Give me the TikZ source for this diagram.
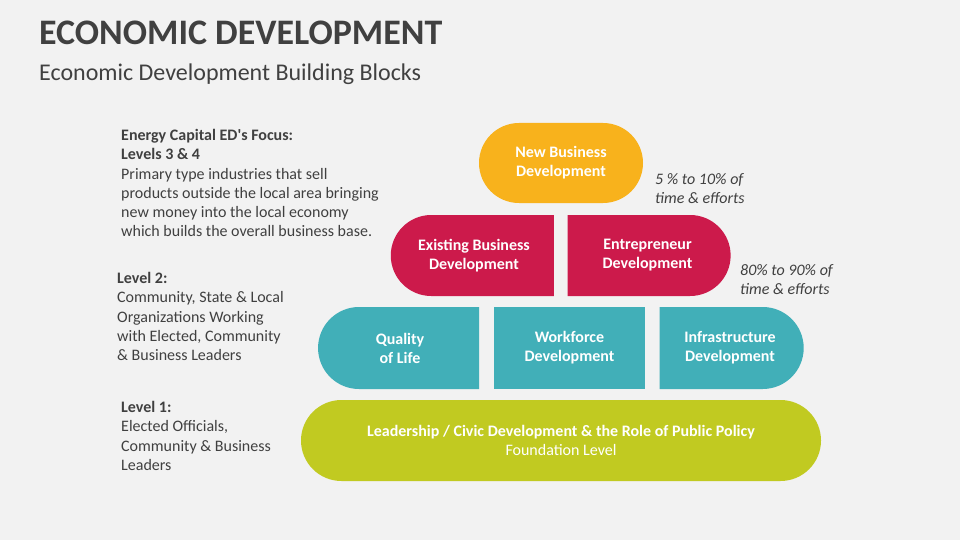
\documentclass[tikz,border=0pt]{standalone}
\usepackage{fontspec}
\setmainfont{Carlito}
\usetikzlibrary{shapes.misc}
\definecolor{bg}{HTML}{F2F2F2}
\definecolor{txt}{HTML}{404040}
\definecolor{cOrange}{HTML}{F8B21C}
\definecolor{cRed}{HTML}{CC1A4B}
\definecolor{cTeal}{HTML}{41AFB8}
\definecolor{cLime}{HTML}{C1CA21}
\tikzset{
  blk/.style={fill=#1, draw=none, text=white, inner sep=0pt, align=center,
    font=\fontsize{16}{19}\selectfont\bfseries, minimum height=81pt},
  pill/.style={blk=#1, rounded rectangle},
  pillL/.style={blk=#1, rounded rectangle, rounded rectangle right arc=none},
  pillR/.style={blk=#1, rounded rectangle, rounded rectangle left arc=none},
  sq/.style={blk=#1, rectangle},
  para/.style={anchor=north west, inner sep=0pt, align=left, text=txt,
    font=\fontsize{16}{19.3}\selectfont},
  pct/.style={anchor=north west, inner sep=0pt, align=left, text=txt,
    font=\fontsize{16}{19}\selectfont\itshape},
}
\begin{document}
\begin{tikzpicture}[x=1pt,y=-1pt]
\fill[bg] (0,0) rectangle (960,540);
\useasboundingbox (0,0) rectangle (960,540);

\node[anchor=base west, inner sep=0pt, text=txt, font=\fontsize{35.9}{40}\selectfont\bfseries] (title) at (39,45) {ECONOMIC DEVELOPMENT};
\node[anchor=base west, inner sep=0pt, text=txt, font=\fontsize{24}{28}\selectfont] (sub) at (39,81) {Economic Development Building Blocks};

% blocks
\node[pill=cOrange, minimum width=164pt, minimum height=80pt] (nbd) at (561,163) {New Business\\Development};
\node[pillL=cRed, minimum width=163pt] (ebd) at (474,255.5) {Existing Business\\Development};
\node[pillR=cRed, minimum width=163pt] (ent) at (647.5,255.5) {Entrepreneur\\Development};
\node[pillL=cTeal, minimum width=161pt, minimum height=82pt] (qol) at (400,348) {Quality\\of Life};
\node[sq=cTeal, minimum width=151pt, minimum height=82pt] (wfd) at (569.5,348) {Workforce\\Development};
\node[pillR=cTeal, minimum width=144pt, minimum height=82pt] (inf) at (730,348) {Infrastructure\\Development};
\node[pill=cLime, minimum width=520pt] (lead) at (561,440.5) {Leadership / Civic Development \& the Role of Public Policy\\\mdseries Foundation Level};

% percentages
\node[pct] (p1) at (655,173) {5 \% to 10\% of\\time \& efforts};
\node[pct] (p2) at (740,264) {80\% to 90\% of\\time \& efforts};

% left texts
\node[para] (l34) at (121,129) {\textbf{Energy Capital ED\textquotesingle s Focus:}\\\textbf{Levels 3 \& 4}\\Primary type industries that sell\\products outside the local area bringing\\new money into the local economy\\which builds the overall business base.};
\node[para] (l2) at (117,272) {\textbf{Level 2:}\\Community, State \& Local\\Organizations Working\\with Elected, Community\\\& Business Leaders};
\node[para] (l1) at (121,401) {\textbf{Level 1:}\\Elected Officials,\\Community \& Business\\Leaders};
\end{tikzpicture}
\end{document}
